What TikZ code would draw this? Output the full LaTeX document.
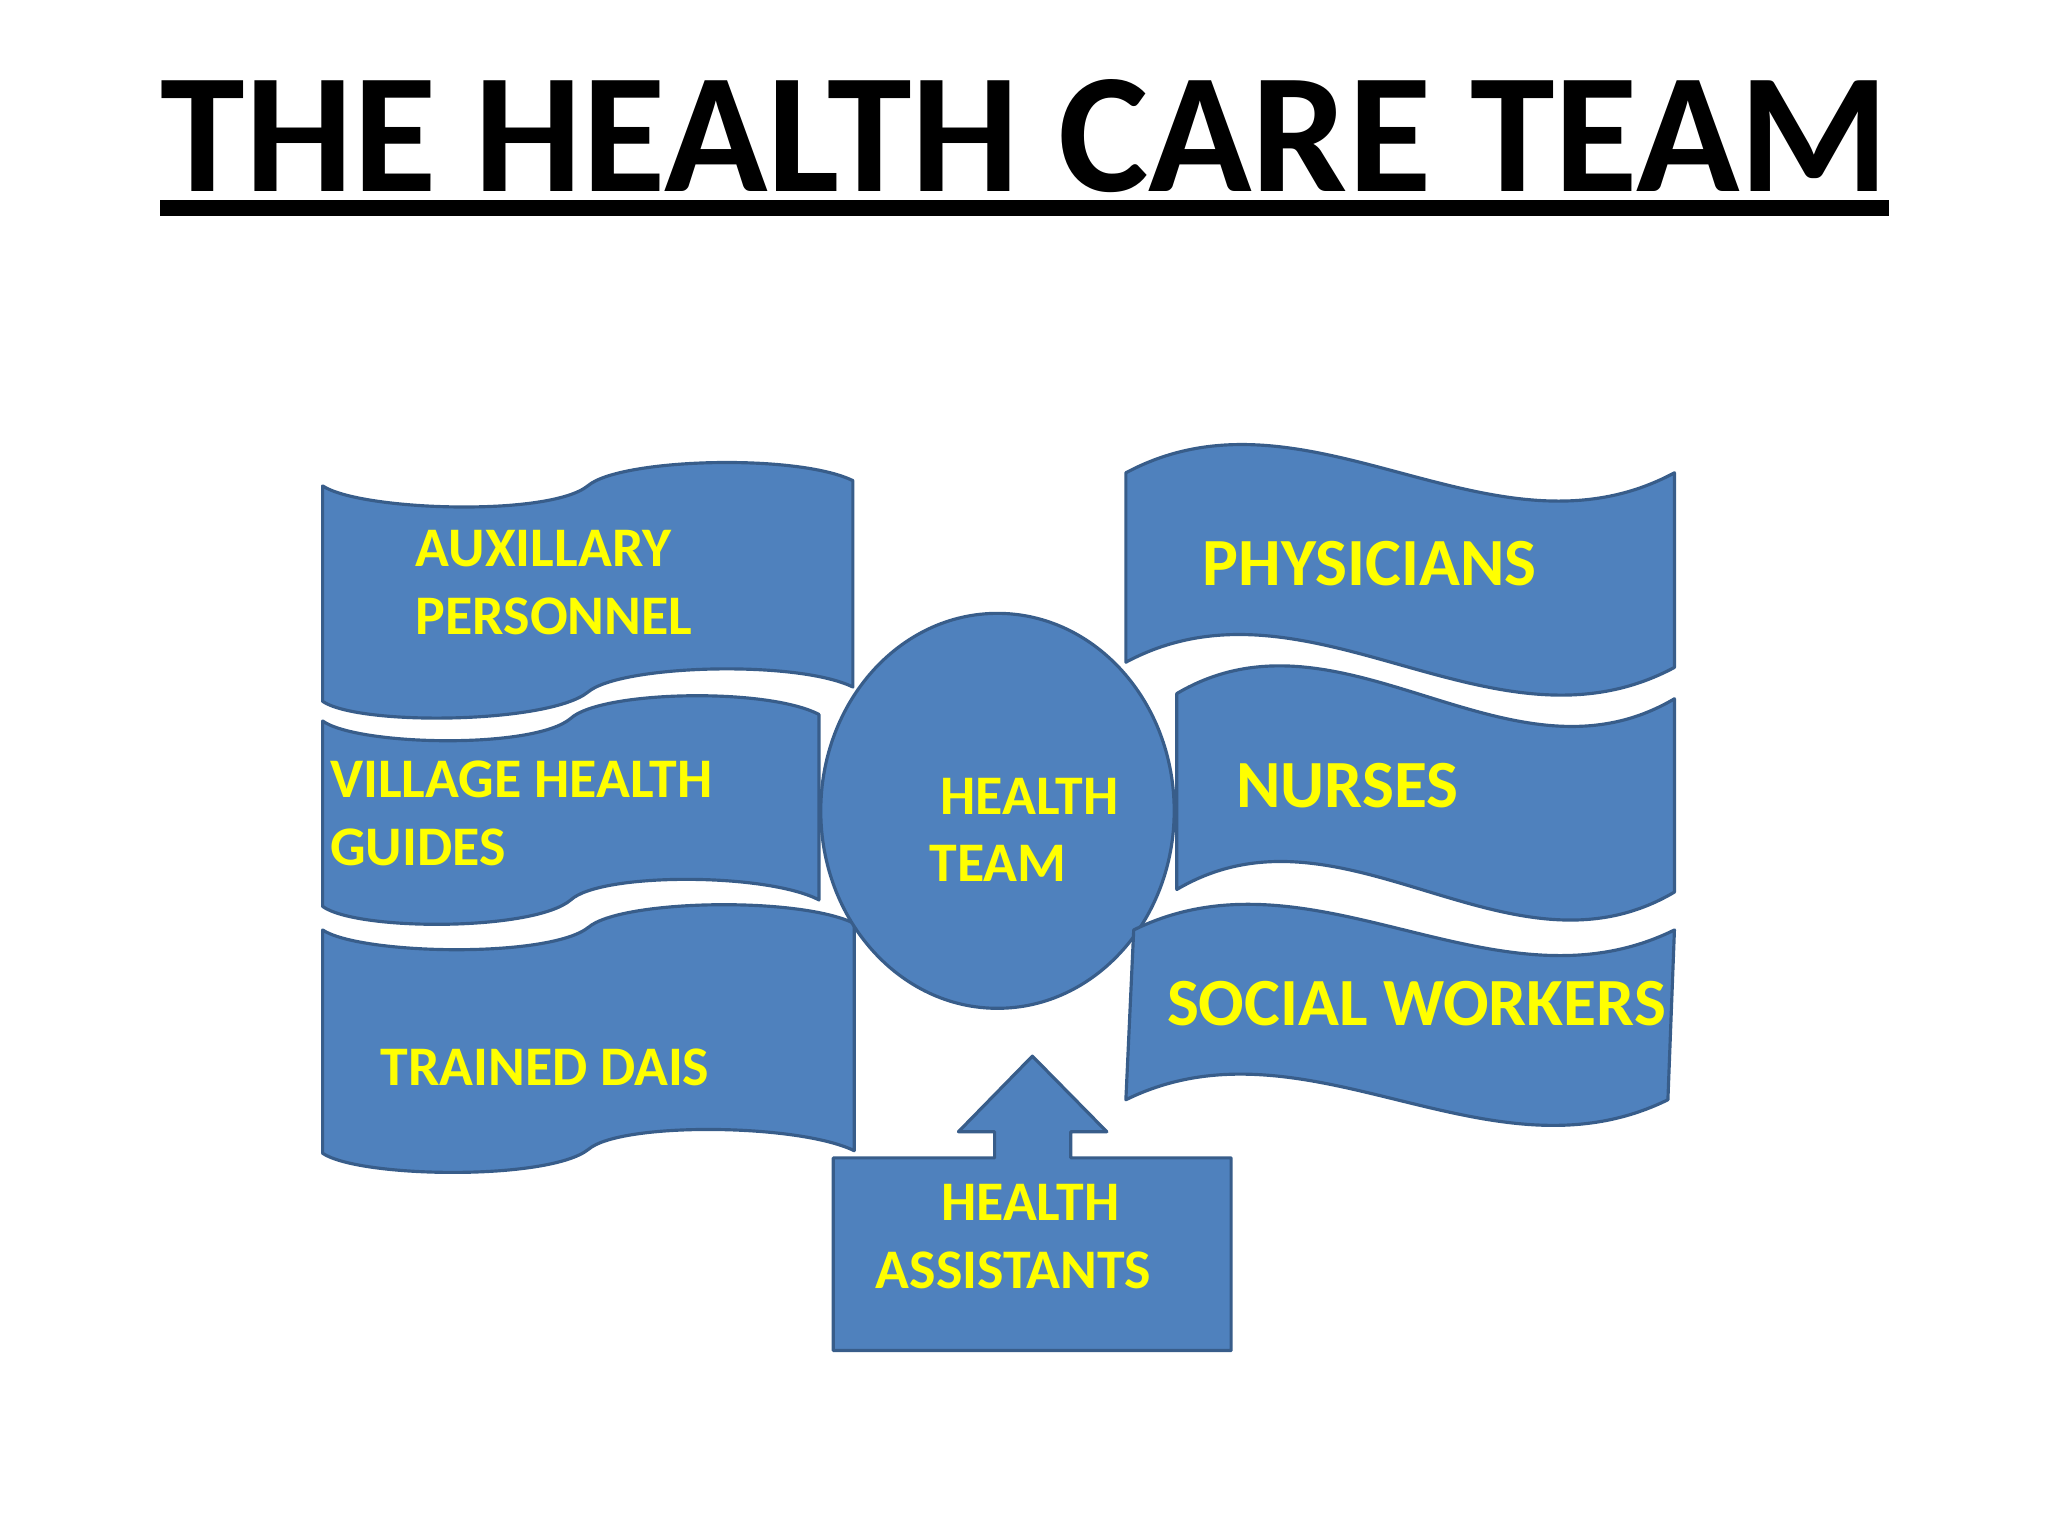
\documentclass[tikz,border=0pt]{standalone}
\usepackage{fontspec}
\setmainfont{Carlito}
\definecolor{flagblue}{HTML}{4F81BD}
\definecolor{flagedge}{HTML}{385D8A}
\definecolor{labelyellow}{HTML}{FFFF00}

\def\px{0.0130612cm}

\begin{document}
\begin{tikzpicture}[x={(\px,0)}, y={(0,-\px)},
                    line join=round,
                    flag/.style={fill=flagblue, draw=flagedge, line width=0.9pt},
                    lbl/.style={text=labelyellow, inner sep=0pt, anchor=north west,
                                align=left, font=\bfseries\fontsize{15.9}{19.3}\selectfont},
                    biglbl/.style={lbl, font=\bfseries\fontsize{19.2}{22}\selectfont}
                   ]
\useasboundingbox (0,0) rectangle (1568,1176);

\node [anchor=base west, inner sep=0pt, font=\bfseries\fontsize{48.6}{56}\selectfont]
      (title) at (122.5,147) {THE HEALTH CARE TEAM};
\fill ([yshift=-2.2pt]title.base west) rectangle ([yshift=-6.8pt]title.base east);

\foreach \L/\R/\ta/\tb/\tc/\ba/\bb/\bc
         [evaluate={\w=\R-\L; \M=(\L+\R)/2;}] in
         {247/653/372/372/368/537/530/526,
          247/627/552/550/547/694/689/689,
          247/654/712/710/707/883/880/881}{
    \filldraw [flag] (\L,\ta) .. controls ({\L+0.07*\w},{\ta+19}) and ({\M-0.074*\w},{\tb+24}) .. (\M,\tb)
        .. controls ({\M+0.06*\w},{\tb-21}) and ({\R-0.106*\w},{\tc-21}) .. (\R,\tc)
        -- (\R,\bc) .. controls ({\R-0.106*\w},{\bc-21}) and ({\M+0.06*\w},{\bb-21}) .. (\M,\bb)
        .. controls ({\M-0.074*\w},{\bb+24}) and ({\L+0.07*\w},{\ba+19}) .. (\L,\ba) -- cycle;
  }

\filldraw [flag] (763.7,620.8) ellipse [x radius=135.3, y radius=151.2];

\foreach \L/\R/\Lb/\Rb/\ta/\tb/\ba/\bb/\amp in
         {862/1282/862/1282/362/362/507/511/75,
          901/1282/901/1282/531/535/681/683/75,
          868/1282/862/1277/712/712/842/842/68}{
    \filldraw [flag] (\L,\ta) .. controls ({\L+(\R-\L)/3},{\ta-\amp}) and ({\R-(\R-\L)/3},{\tb+\amp}) .. (\R,\tb)
        -- (\Rb,\bb) .. controls ({\Rb-(\Rb-\Lb)/3},{\bb+\amp}) and ({\Lb+(\Rb-\Lb)/3},{\ba-\amp}) .. (\Lb,\ba)
        -- cycle;
  }

\filldraw [flag] (638,886.5) -- (761.5,886.5) -- (761.5,866.5) -- (733.8,866.5)
    -- (790.4,808.6) -- (847.4,866.5) -- (819.8,866.5) -- (819.8,886.5)
    -- (942.6,886.5) -- (942.6,1034) -- (638,1034) -- cycle;

\node [lbl] (auxil) at (317.8,405.6) {AUXILLARY\\PERSONNEL};
\node [lbl] (village) at (252.4,582) {VILLAGE HEALTH\\GUIDES};
\node [lbl] (dais) at (290.7,802.5) {TRAINED DAIS};
\node [lbl] (hub) at (711,595) {\hspace*{3.2pt}HEALTH\\TEAM};
\node [lbl] (assist) at (670,906) {\hspace*{18.6pt}HEALTH\\ASSISTANTS};
\node [biglbl] (physic) at (920.4,413.5) {PHYSICIANS};
\node [biglbl] (nurse) at (946,584) {NURSES};
\node [biglbl] (social) at (893,750.4) {SOCIAL WORKERS};
\end{tikzpicture}
\end{document}
